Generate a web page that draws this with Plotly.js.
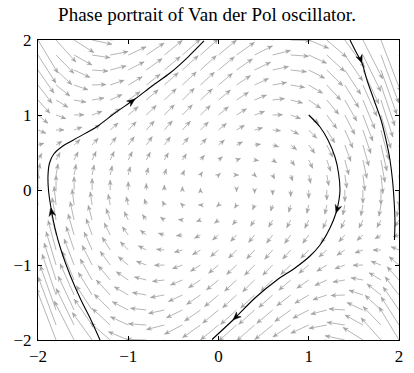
<!DOCTYPE html>
<html><head><meta charset="utf-8">
<script src="https://cdn.plot.ly/plotly-3.0.1.min.js"></script>
<style>html,body{margin:0;padding:0;background:#fff}</style>
</head><body><div id="chart" style="width:414px;height:373px"></div>
<script>
// grid of the direction field (columns = x, rows = y)
const gridX = [-2,-1.8,-1.6,-1.4,-1.2,-1,-0.8,-0.6,-0.4,-0.2,0,0.2,0.4,0.6,0.8,1,1.2,1.4,1.6,1.8,2];
const gridY = [-2,-1.8,-1.6,-1.4,-1.2,-1,-0.8,-0.6,-0.4,-0.2,0,0.2,0.4,0.6,0.8,1,1.2,1.4,1.6,1.8,2];
// horizontal component of the field, one value per row
const fieldU = [-2,-1.8,-1.6,-1.4,-1.2,-1,-0.8,-0.6,-0.4,-0.2,0,0.2,0.4,0.6,0.8,1,1.2,1.4,1.6,1.8,2];
// vertical component of the field, one row per gridY value
const fieldV = [
 [8,6.28,4.72,3.32,2.08,1,0.08,-0.68,-1.28,-1.72,-2,-2.12,-2.08,-1.88,-1.52,-1,-0.32,0.52,1.52,2.68,4],
 [7.4,5.83,4.41,3.13,1.99,1,0.15,-0.55,-1.11,-1.53,-1.8,-1.93,-1.91,-1.75,-1.45,-1,-0.41,0.33,1.21,2.23,3.4],
 [6.8,5.38,4.1,2.94,1.9,1,0.22,-0.42,-0.94,-1.34,-1.6,-1.74,-1.74,-1.62,-1.38,-1,-0.5,0.14,0.9,1.78,2.8],
 [6.2,4.94,3.78,2.74,1.82,1,0.3,-0.3,-0.78,-1.14,-1.4,-1.54,-1.58,-1.5,-1.3,-1,-0.58,-0.06,0.58,1.34,2.2],
 [5.6,4.49,3.47,2.55,1.73,1,0.37,-0.17,-0.61,-0.95,-1.2,-1.35,-1.41,-1.37,-1.23,-1,-0.67,-0.25,0.27,0.89,1.6],
 [5,4.04,3.16,2.36,1.64,1,0.44,-0.04,-0.44,-0.76,-1,-1.16,-1.24,-1.24,-1.16,-1,-0.76,-0.44,-0.04,0.44,1],
 [4.4,3.59,2.85,2.17,1.55,1,0.51,0.09,-0.27,-0.57,-0.8,-0.97,-1.07,-1.11,-1.09,-1,-0.85,-0.63,-0.35,-0.01,0.4],
 [3.8,3.14,2.54,1.98,1.46,1,0.58,0.22,-0.1,-0.38,-0.6,-0.78,-0.9,-0.98,-1.02,-1,-0.94,-0.82,-0.66,-0.46,-0.2],
 [3.2,2.7,2.22,1.78,1.38,1,0.66,0.34,0.06,-0.18,-0.4,-0.58,-0.74,-0.86,-0.94,-1,-1.02,-1.02,-0.98,-0.9,-0.8],
 [2.6,2.25,1.91,1.59,1.29,1,0.73,0.47,0.23,0.01,-0.2,-0.39,-0.57,-0.73,-0.87,-1,-1.11,-1.21,-1.29,-1.35,-1.4],
 [2,1.8,1.6,1.4,1.2,1,0.8,0.6,0.4,0.2,0,-0.2,-0.4,-0.6,-0.8,-1,-1.2,-1.4,-1.6,-1.8,-2],
 [1.4,1.35,1.29,1.21,1.11,1,0.87,0.73,0.57,0.39,0.2,-0.01,-0.23,-0.47,-0.73,-1,-1.29,-1.59,-1.91,-2.25,-2.6],
 [0.8,0.9,0.98,1.02,1.02,1,0.94,0.86,0.74,0.58,0.4,0.18,-0.06,-0.34,-0.66,-1,-1.38,-1.78,-2.22,-2.7,-3.2],
 [0.2,0.46,0.66,0.82,0.94,1,1.02,0.98,0.9,0.78,0.6,0.38,0.1,-0.22,-0.58,-1,-1.46,-1.98,-2.54,-3.14,-3.8],
 [-0.4,0.01,0.35,0.63,0.85,1,1.09,1.11,1.07,0.97,0.8,0.57,0.27,-0.09,-0.51,-1,-1.55,-2.17,-2.85,-3.59,-4.4],
 [-1,-0.44,0.04,0.44,0.76,1,1.16,1.24,1.24,1.16,1,0.76,0.44,0.04,-0.44,-1,-1.64,-2.36,-3.16,-4.04,-5],
 [-1.6,-0.89,-0.27,0.25,0.67,1,1.23,1.37,1.41,1.35,1.2,0.95,0.61,0.17,-0.37,-1,-1.73,-2.55,-3.47,-4.49,-5.6],
 [-2.2,-1.34,-0.58,0.06,0.58,1,1.3,1.5,1.58,1.54,1.4,1.14,0.78,0.3,-0.3,-1,-1.82,-2.74,-3.78,-4.94,-6.2],
 [-2.8,-1.78,-0.9,-0.14,0.5,1,1.38,1.62,1.74,1.74,1.6,1.34,0.94,0.42,-0.22,-1,-1.9,-2.94,-4.1,-5.38,-6.8],
 [-3.4,-2.23,-1.21,-0.33,0.41,1,1.45,1.75,1.91,1.93,1.8,1.53,1.11,0.55,-0.15,-1,-1.99,-3.13,-4.41,-5.83,-7.4],
 [-4,-2.68,-1.52,-0.52,0.32,1,1.52,1.88,2.08,2.12,2,1.72,1.28,0.68,-0.08,-1,-2.08,-3.32,-4.72,-6.28,-8]
];
const arrowScale = 0.11;

// trajectories
const trajAx = [1.0,1.125,1.213,1.291,1.33,1.346,1.335,1.302,1.235,1.125,1.014,0.848,0.648,0.404,0.161,-0.072];
const trajAy = [1.0,0.84,0.667,0.44,0.227,0,-0.133,-0.307,-0.507,-0.733,-0.88,-1.04,-1.2,-1.44,-1.733,-1.993];
const trajAarrows = [7,14];
const trajBx = [-1.313,-1.413,-1.524,-1.645,-1.745,-1.812,-1.856,-1.884,-1.889,-1.872,-1.825,-1.72,-1.55,-1.346,-1.147,-0.925,-0.737,-0.537,-0.338,-0.161];
const trajBy = [-2.0,-1.733,-1.467,-1.133,-0.8,-0.507,-0.24,0,0.2,0.36,0.48,0.59,0.705,0.847,1.027,1.213,1.387,1.56,1.773,1.987];
const trajBarrows = [6,15];
const trajCx = [1.457,1.524,1.59,1.645,1.723,1.801,1.856,1.9,1.928,1.945,1.955,1.95];
const trajCy = [2.0,1.84,1.693,1.467,1.2,0.933,0.667,0.4,0.133,-0.133,-0.4,-0.667];
const trajCarrows = [2];

const xTicks = [-2,-1,0,1,2];
const yTicks = [-2,-1,0,1,2];

const W=414, H=373, M={l:38,r:15,t:40,b:33};
const xr=[-2,2], yr=[-2,2];
const kx=(W-M.l-M.r)/(xr[1]-xr[0]), ky=(H-M.t-M.b)/(yr[1]-yr[0]);

function head(tx,ty,dx,dy,L,hw,notch,out){
  let px=dx*kx, py=dy*ky; const n=Math.hypot(px,py); if(!n) return;
  px/=n; py/=n; const nx=-py, ny=px;
  const pts=[[0,0],[-L*px+hw*nx,-L*py+hw*ny],[-(L-notch)*px,-(L-notch)*py],[-L*px-hw*nx,-L*py-hw*ny],[0,0]];
  for(const [a,b] of pts){ out.x.push(tx+a/kx); out.y.push(ty+b/ky); }
  out.x.push(null); out.y.push(null);
}

const shaft={x:[],y:[]}, heads={x:[],y:[]};
for(let i=0;i<gridY.length;i++){
  for(let j=0;j<gridX.length;j++){
    const x0=gridX[j], y0=gridY[i], u=fieldU[i], v=fieldV[i][j];
    const x1=x0+arrowScale*u, y1=y0+arrowScale*v;
    shaft.x.push(x0,x1,null); shaft.y.push(y0,y1,null);
    head(x1,y1,u,v,5,2.1,1.5,heads);
  }
}
const gray='#a3a3a3';
const traces=[
  {type:'scatter',mode:'lines',x:shaft.x,y:shaft.y,line:{color:gray,width:0.8},hoverinfo:'skip',showlegend:false},
  {type:'scatter',mode:'lines',x:heads.x,y:heads.y,fill:'toself',fillcolor:gray,line:{color:gray,width:0.3},hoverinfo:'skip',showlegend:false}
];
const bheads={x:[],y:[]};
for(const [tx,ty,ar] of [[trajAx,trajAy,trajAarrows],[trajBx,trajBy,trajBarrows],[trajCx,trajCy,trajCarrows]]){
  traces.push({type:'scatter',mode:'lines',x:tx,y:ty,line:{color:'#000',width:1.1,shape:'spline',smoothing:0.8},hoverinfo:'skip',showlegend:false});
  for(const k of ar){
    const a=Math.max(k-1,0), b=Math.min(k+1,tx.length-1);
    head(tx[k],ty[k],tx[b]-tx[a],ty[b]-ty[a],8,3.3,2.6,bheads);
  }
}
traces.push({type:'scatter',mode:'lines',x:bheads.x,y:bheads.y,fill:'toself',fillcolor:'#000',line:{color:'#000',width:0.5},hoverinfo:'skip',showlegend:false});

const axisCommon={showgrid:false,zeroline:false,showline:true,linecolor:'#000',linewidth:1,mirror:'ticks',
  ticks:'inside',ticklen:4,tickcolor:'#000',tickwidth:1,tickfont:{family:'Liberation Serif',size:17,color:'#000'}};
const layout={
  width:W,height:H,margin:M,paper_bgcolor:'#fff',plot_bgcolor:'#fff',
  title:{text:'Phase portrait of Van der Pol oscillator.',font:{family:'Liberation Serif',size:19,color:'#000'},
    x:0.5,xref:'container',xanchor:'center',y:1-14/H,yref:'container',yanchor:'middle'},
  xaxis:Object.assign({},axisCommon,{range:xr,tickvals:xTicks,ticklabelstandoff:1}),
  yaxis:Object.assign({},axisCommon,{range:yr,tickvals:yTicks,ticklabelstandoff:2}),
  showlegend:false
};
Plotly.newPlot('chart',traces,layout,{staticPlot:true,displayModeBar:false});
</script></body></html>
